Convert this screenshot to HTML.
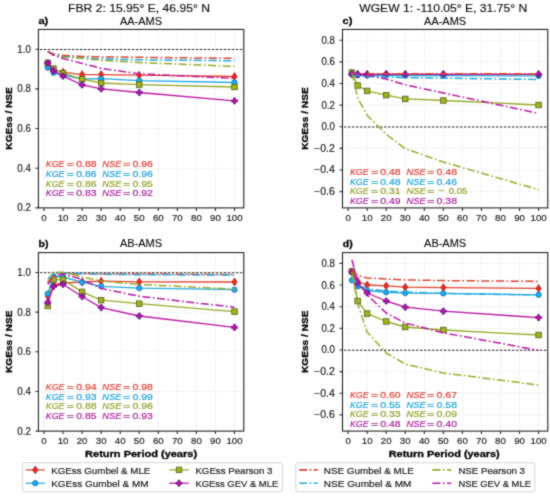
<!DOCTYPE html><html><head><meta charset="utf-8"><style>
html,body{margin:0;padding:0;background:#fff;}svg{display:block;}
text{font-family:"Liberation Sans", sans-serif;} .tk{font-size:9.6px;fill:#1a1a1a;stroke:#1a1a1a;stroke-width:0.16px;} .tky{font-size:10.1px;} .an{font-size:9.8px;stroke-width:0.15px;} .ti{font-size:11.2px;fill:#111;stroke:#111;stroke-width:0.15px;} .bl{font-size:9.6px;font-weight:bold;fill:#000;stroke:#000;stroke-width:0.3px;} .lg{font-size:9.6px;fill:#1e1e1e;stroke:#1e1e1e;stroke-width:0.2px;} .yl{font-size:9.6px;font-weight:bold;fill:#000;stroke:#000;stroke-width:0.3px;}
</style></head><body>
<svg width="550" height="497" viewBox="0 0 550 497">
<defs><filter id="soft" x="0" y="0" width="550" height="497" filterUnits="userSpaceOnUse" color-interpolation-filters="sRGB"><feConvolveMatrix order="3" kernelMatrix="1 2 1 2 14 2 1 2 1" divisor="26" edgeMode="duplicate"/></filter></defs>
<g filter="url(#soft)">
<rect width="550" height="497" fill="#fff"/>
<path d="M44.00,29.40V207.90 M63.05,29.40V207.90 M82.10,29.40V207.90 M101.15,29.40V207.90 M120.20,29.40V207.90 M139.25,29.40V207.90 M158.30,29.40V207.90 M177.35,29.40V207.90 M196.40,29.40V207.90 M215.45,29.40V207.90 M234.50,29.40V207.90 M38.40,49.23H243.80 M38.40,88.90H243.80 M38.40,128.57H243.80 M38.40,168.23H243.80 M38.40,207.90H243.80" stroke="#f3f3f3" stroke-width="0.9" fill="none"/>
<path d="M38.40,49.53H243.80" stroke="#2a2a2a" stroke-width="1.1" stroke-dasharray="2.5,1.5" stroke-dashoffset="-1.45" fill="none"/>
<polyline points="47.81,66.50 53.52,70.00 63.05,72.20 82.10,74.60 101.15,74.60 139.25,75.20 234.50,76.50" fill="none" stroke="#e2432f" stroke-width="1.35" stroke-linejoin="round"/>
<path d="M47.81,62.60 L50.41,66.50 L47.81,70.40 L45.21,66.50Z" fill="#f22a1a" stroke="#a01c28" stroke-width="0.75"/>
<path d="M53.52,66.10 L56.12,70.00 L53.52,73.90 L50.92,70.00Z" fill="#f22a1a" stroke="#a01c28" stroke-width="0.75"/>
<path d="M63.05,68.30 L65.65,72.20 L63.05,76.10 L60.45,72.20Z" fill="#f22a1a" stroke="#a01c28" stroke-width="0.75"/>
<path d="M82.10,70.70 L84.70,74.60 L82.10,78.50 L79.50,74.60Z" fill="#f22a1a" stroke="#a01c28" stroke-width="0.75"/>
<path d="M101.15,70.70 L103.75,74.60 L101.15,78.50 L98.55,74.60Z" fill="#f22a1a" stroke="#a01c28" stroke-width="0.75"/>
<path d="M139.25,71.30 L141.85,75.20 L139.25,79.10 L136.65,75.20Z" fill="#f22a1a" stroke="#a01c28" stroke-width="0.75"/>
<path d="M234.50,72.60 L237.10,76.50 L234.50,80.40 L231.90,76.50Z" fill="#f22a1a" stroke="#a01c28" stroke-width="0.75"/>
<polyline points="47.81,67.40 53.52,72.80 63.05,75.00 82.10,79.00 101.15,78.70 139.25,80.60 234.50,82.50" fill="none" stroke="#22aae2" stroke-width="1.35" stroke-linejoin="round"/>
<circle cx="47.81" cy="67.40" r="2.7" fill="#18acec" stroke="#1e6aa8" stroke-width="0.75"/>
<circle cx="53.52" cy="72.80" r="2.7" fill="#18acec" stroke="#1e6aa8" stroke-width="0.75"/>
<circle cx="63.05" cy="75.00" r="2.7" fill="#18acec" stroke="#1e6aa8" stroke-width="0.75"/>
<circle cx="82.10" cy="79.00" r="2.7" fill="#18acec" stroke="#1e6aa8" stroke-width="0.75"/>
<circle cx="101.15" cy="78.70" r="2.7" fill="#18acec" stroke="#1e6aa8" stroke-width="0.75"/>
<circle cx="139.25" cy="80.60" r="2.7" fill="#18acec" stroke="#1e6aa8" stroke-width="0.75"/>
<circle cx="234.50" cy="82.50" r="2.7" fill="#18acec" stroke="#1e6aa8" stroke-width="0.75"/>
<polyline points="47.81,62.90 53.52,68.60 63.05,73.10 82.10,79.10 101.15,83.00 139.25,84.60 234.50,87.00" fill="none" stroke="#98aa26" stroke-width="1.35" stroke-linejoin="round"/>
<rect x="45.06" y="60.15" width="5.5" height="5.5" fill="#a2b41a" stroke="#565c20" stroke-width="0.8"/>
<rect x="50.77" y="65.85" width="5.5" height="5.5" fill="#a2b41a" stroke="#565c20" stroke-width="0.8"/>
<rect x="60.30" y="70.35" width="5.5" height="5.5" fill="#a2b41a" stroke="#565c20" stroke-width="0.8"/>
<rect x="79.35" y="76.35" width="5.5" height="5.5" fill="#a2b41a" stroke="#565c20" stroke-width="0.8"/>
<rect x="98.40" y="80.25" width="5.5" height="5.5" fill="#a2b41a" stroke="#565c20" stroke-width="0.8"/>
<rect x="136.50" y="81.85" width="5.5" height="5.5" fill="#a2b41a" stroke="#565c20" stroke-width="0.8"/>
<rect x="231.75" y="84.25" width="5.5" height="5.5" fill="#a2b41a" stroke="#565c20" stroke-width="0.8"/>
<polyline points="47.81,62.90 53.52,70.70 63.05,76.10 82.10,84.90 101.15,88.90 139.25,92.50 234.50,100.90" fill="none" stroke="#bc18a4" stroke-width="1.35" stroke-linejoin="round"/>
<path d="M46.81,59.95 H48.81 V61.90 H50.76 V63.90 H48.81 V65.85 H46.81 V63.90 H44.86 V61.90 H46.81Z" fill="#d00ca8" stroke="#501088" stroke-width="0.75"/>
<path d="M52.52,67.75 H54.52 V69.70 H56.48 V71.70 H54.52 V73.65 H52.52 V71.70 H50.57 V69.70 H52.52Z" fill="#d00ca8" stroke="#501088" stroke-width="0.75"/>
<path d="M62.05,73.15 H64.05 V75.10 H66.00 V77.10 H64.05 V79.05 H62.05 V77.10 H60.10 V75.10 H62.05Z" fill="#d00ca8" stroke="#501088" stroke-width="0.75"/>
<path d="M81.10,81.95 H83.10 V83.90 H85.05 V85.90 H83.10 V87.85 H81.10 V85.90 H79.15 V83.90 H81.10Z" fill="#d00ca8" stroke="#501088" stroke-width="0.75"/>
<path d="M100.15,85.95 H102.15 V87.90 H104.10 V89.90 H102.15 V91.85 H100.15 V89.90 H98.20 V87.90 H100.15Z" fill="#d00ca8" stroke="#501088" stroke-width="0.75"/>
<path d="M138.25,89.55 H140.25 V91.50 H142.20 V93.50 H140.25 V95.45 H138.25 V93.50 H136.30 V91.50 H138.25Z" fill="#d00ca8" stroke="#501088" stroke-width="0.75"/>
<path d="M233.50,97.95 H235.50 V99.90 H237.45 V101.90 H235.50 V103.85 H233.50 V101.90 H231.55 V99.90 H233.50Z" fill="#d00ca8" stroke="#501088" stroke-width="0.75"/>
<polyline points="47.81,51.50 53.52,54.00 63.05,55.30 82.10,56.40 101.15,56.90 139.25,57.30 234.50,58.40" fill="none" stroke="#e2432f" stroke-width="1.5" stroke-dasharray="8.0,2.5,1.7,2.5" stroke-linejoin="round"/>
<polyline points="47.81,51.50 53.52,54.50 63.05,56.50 82.10,58.00 101.15,59.00 139.25,59.80 234.50,60.80" fill="none" stroke="#22aae2" stroke-width="1.5" stroke-dasharray="8.0,2.5,1.7,2.5" stroke-linejoin="round"/>
<polyline points="47.81,51.50 53.52,55.00 63.05,56.90 82.10,58.30 101.15,60.20 139.25,62.50 234.50,66.40" fill="none" stroke="#98aa26" stroke-width="1.5" stroke-dasharray="8.0,2.5,1.7,2.5" stroke-linejoin="round"/>
<polyline points="47.81,51.50 53.52,55.30 63.05,58.50 82.10,63.40 101.15,68.40 139.25,73.80 234.50,78.40" fill="none" stroke="#bc18a4" stroke-width="1.5" stroke-dasharray="8.0,2.5,1.7,2.5" stroke-linejoin="round"/>
<rect x="38.40" y="29.40" width="205.40" height="178.50" fill="none" stroke="#1a1a1a" stroke-width="1.05"/>
<path d="M44.00,207.90v3 M63.05,207.90v3 M82.10,207.90v3 M101.15,207.90v3 M120.20,207.90v3 M139.25,207.90v3 M158.30,207.90v3 M177.35,207.90v3 M196.40,207.90v3 M215.45,207.90v3 M234.50,207.90v3 M38.40,49.23h-3 M38.40,88.90h-3 M38.40,128.57h-3 M38.40,168.23h-3 M38.40,207.90h-3" stroke="#2e2e2e" stroke-width="1.1" fill="none"/>
<text x="44.00" y="220.90" text-anchor="middle" class="tk" textLength="5.39" lengthAdjust="spacingAndGlyphs">0</text>
<text x="63.05" y="220.90" text-anchor="middle" class="tk" textLength="10.79" lengthAdjust="spacingAndGlyphs">10</text>
<text x="82.10" y="220.90" text-anchor="middle" class="tk" textLength="10.79" lengthAdjust="spacingAndGlyphs">20</text>
<text x="101.15" y="220.90" text-anchor="middle" class="tk" textLength="10.79" lengthAdjust="spacingAndGlyphs">30</text>
<text x="120.20" y="220.90" text-anchor="middle" class="tk" textLength="10.79" lengthAdjust="spacingAndGlyphs">40</text>
<text x="139.25" y="220.90" text-anchor="middle" class="tk" textLength="10.79" lengthAdjust="spacingAndGlyphs">50</text>
<text x="158.30" y="220.90" text-anchor="middle" class="tk" textLength="10.79" lengthAdjust="spacingAndGlyphs">60</text>
<text x="177.35" y="220.90" text-anchor="middle" class="tk" textLength="10.79" lengthAdjust="spacingAndGlyphs">70</text>
<text x="196.40" y="220.90" text-anchor="middle" class="tk" textLength="10.79" lengthAdjust="spacingAndGlyphs">80</text>
<text x="215.45" y="220.90" text-anchor="middle" class="tk" textLength="10.79" lengthAdjust="spacingAndGlyphs">90</text>
<text x="234.50" y="220.90" text-anchor="middle" class="tk" textLength="16.18" lengthAdjust="spacingAndGlyphs">100</text>
<text x="30.80" y="52.68" text-anchor="end" class="tk tky" textLength="13.48" lengthAdjust="spacingAndGlyphs">1.0</text>
<text x="30.80" y="92.35" text-anchor="end" class="tk tky" textLength="13.48" lengthAdjust="spacingAndGlyphs">0.8</text>
<text x="30.80" y="132.02" text-anchor="end" class="tk tky" textLength="13.48" lengthAdjust="spacingAndGlyphs">0.6</text>
<text x="30.80" y="171.68" text-anchor="end" class="tk tky" textLength="13.48" lengthAdjust="spacingAndGlyphs">0.4</text>
<text x="30.80" y="211.35" text-anchor="end" class="tk tky" textLength="13.48" lengthAdjust="spacingAndGlyphs">0.2</text>
<text x="45.80" y="167.20" class="an" fill="#e63328" stroke="#e63328" font-style="italic" textLength="18.70" lengthAdjust="spacingAndGlyphs">KGE</text>
<text x="66.80" y="167.20" class="an" fill="#e63328" stroke="#e63328" textLength="7.30" lengthAdjust="spacingAndGlyphs">=</text>
<text x="76.20" y="167.20" class="an" fill="#e63328" stroke="#e63328" textLength="20.40" lengthAdjust="spacingAndGlyphs">0.88</text>
<text x="102.30" y="167.20" class="an" fill="#e63328" stroke="#e63328" font-style="italic" textLength="19.30" lengthAdjust="spacingAndGlyphs">NSE</text>
<text x="123.00" y="167.20" class="an" fill="#e63328" stroke="#e63328" textLength="7.30" lengthAdjust="spacingAndGlyphs">=</text>
<text x="132.40" y="167.20" class="an" fill="#e63328" stroke="#e63328" textLength="20.50" lengthAdjust="spacingAndGlyphs">0.96</text>
<text x="45.80" y="176.92" class="an" fill="#12a0dc" stroke="#12a0dc" font-style="italic" textLength="18.70" lengthAdjust="spacingAndGlyphs">KGE</text>
<text x="66.80" y="176.92" class="an" fill="#12a0dc" stroke="#12a0dc" textLength="7.30" lengthAdjust="spacingAndGlyphs">=</text>
<text x="76.20" y="176.92" class="an" fill="#12a0dc" stroke="#12a0dc" textLength="20.40" lengthAdjust="spacingAndGlyphs">0.86</text>
<text x="102.30" y="176.92" class="an" fill="#12a0dc" stroke="#12a0dc" font-style="italic" textLength="19.30" lengthAdjust="spacingAndGlyphs">NSE</text>
<text x="123.00" y="176.92" class="an" fill="#12a0dc" stroke="#12a0dc" textLength="7.30" lengthAdjust="spacingAndGlyphs">=</text>
<text x="132.40" y="176.92" class="an" fill="#12a0dc" stroke="#12a0dc" textLength="20.50" lengthAdjust="spacingAndGlyphs">0.96</text>
<text x="45.80" y="186.64" class="an" fill="#8e9c1c" stroke="#8e9c1c" font-style="italic" textLength="18.70" lengthAdjust="spacingAndGlyphs">KGE</text>
<text x="66.80" y="186.64" class="an" fill="#8e9c1c" stroke="#8e9c1c" textLength="7.30" lengthAdjust="spacingAndGlyphs">=</text>
<text x="76.20" y="186.64" class="an" fill="#8e9c1c" stroke="#8e9c1c" textLength="20.40" lengthAdjust="spacingAndGlyphs">0.86</text>
<text x="102.30" y="186.64" class="an" fill="#8e9c1c" stroke="#8e9c1c" font-style="italic" textLength="19.30" lengthAdjust="spacingAndGlyphs">NSE</text>
<text x="123.00" y="186.64" class="an" fill="#8e9c1c" stroke="#8e9c1c" textLength="7.30" lengthAdjust="spacingAndGlyphs">=</text>
<text x="132.40" y="186.64" class="an" fill="#8e9c1c" stroke="#8e9c1c" textLength="20.50" lengthAdjust="spacingAndGlyphs">0.95</text>
<text x="45.80" y="196.36" class="an" fill="#a81498" stroke="#a81498" font-style="italic" textLength="18.70" lengthAdjust="spacingAndGlyphs">KGE</text>
<text x="66.80" y="196.36" class="an" fill="#a81498" stroke="#a81498" textLength="7.30" lengthAdjust="spacingAndGlyphs">=</text>
<text x="76.20" y="196.36" class="an" fill="#a81498" stroke="#a81498" textLength="20.40" lengthAdjust="spacingAndGlyphs">0.83</text>
<text x="102.30" y="196.36" class="an" fill="#a81498" stroke="#a81498" font-style="italic" textLength="19.30" lengthAdjust="spacingAndGlyphs">NSE</text>
<text x="123.00" y="196.36" class="an" fill="#a81498" stroke="#a81498" textLength="7.30" lengthAdjust="spacingAndGlyphs">=</text>
<text x="132.40" y="196.36" class="an" fill="#a81498" stroke="#a81498" textLength="20.50" lengthAdjust="spacingAndGlyphs">0.92</text>
<path d="M44.00,252.60V431.10 M63.05,252.60V431.10 M82.10,252.60V431.10 M101.15,252.60V431.10 M120.20,252.60V431.10 M139.25,252.60V431.10 M158.30,252.60V431.10 M177.35,252.60V431.10 M196.40,252.60V431.10 M215.45,252.60V431.10 M234.50,252.60V431.10 M38.40,272.43H243.80 M38.40,312.10H243.80 M38.40,351.77H243.80 M38.40,391.43H243.80 M38.40,431.10H243.80" stroke="#f3f3f3" stroke-width="0.9" fill="none"/>
<path d="M38.40,272.73H243.80" stroke="#2a2a2a" stroke-width="1.1" stroke-dasharray="2.5,1.5" stroke-dashoffset="-1.45" fill="none"/>
<polyline points="47.81,296.00 53.52,285.00 63.05,283.00 82.10,282.00 101.15,281.20 139.25,281.80 234.50,282.00" fill="none" stroke="#e2432f" stroke-width="1.35" stroke-linejoin="round"/>
<path d="M47.81,292.10 L50.41,296.00 L47.81,299.90 L45.21,296.00Z" fill="#f22a1a" stroke="#a01c28" stroke-width="0.75"/>
<path d="M53.52,281.10 L56.12,285.00 L53.52,288.90 L50.92,285.00Z" fill="#f22a1a" stroke="#a01c28" stroke-width="0.75"/>
<path d="M63.05,279.10 L65.65,283.00 L63.05,286.90 L60.45,283.00Z" fill="#f22a1a" stroke="#a01c28" stroke-width="0.75"/>
<path d="M82.10,278.10 L84.70,282.00 L82.10,285.90 L79.50,282.00Z" fill="#f22a1a" stroke="#a01c28" stroke-width="0.75"/>
<path d="M101.15,277.30 L103.75,281.20 L101.15,285.10 L98.55,281.20Z" fill="#f22a1a" stroke="#a01c28" stroke-width="0.75"/>
<path d="M139.25,277.90 L141.85,281.80 L139.25,285.70 L136.65,281.80Z" fill="#f22a1a" stroke="#a01c28" stroke-width="0.75"/>
<path d="M234.50,278.10 L237.10,282.00 L234.50,285.90 L231.90,282.00Z" fill="#f22a1a" stroke="#a01c28" stroke-width="0.75"/>
<polyline points="47.81,293.70 53.52,276.50 63.05,277.00 82.10,282.20 101.15,286.30 139.25,288.10 234.50,289.70" fill="none" stroke="#22aae2" stroke-width="1.35" stroke-linejoin="round"/>
<circle cx="47.81" cy="293.70" r="2.7" fill="#18acec" stroke="#1e6aa8" stroke-width="0.75"/>
<circle cx="53.52" cy="276.50" r="2.7" fill="#18acec" stroke="#1e6aa8" stroke-width="0.75"/>
<circle cx="63.05" cy="277.00" r="2.7" fill="#18acec" stroke="#1e6aa8" stroke-width="0.75"/>
<circle cx="82.10" cy="282.20" r="2.7" fill="#18acec" stroke="#1e6aa8" stroke-width="0.75"/>
<circle cx="101.15" cy="286.30" r="2.7" fill="#18acec" stroke="#1e6aa8" stroke-width="0.75"/>
<circle cx="139.25" cy="288.10" r="2.7" fill="#18acec" stroke="#1e6aa8" stroke-width="0.75"/>
<circle cx="234.50" cy="289.70" r="2.7" fill="#18acec" stroke="#1e6aa8" stroke-width="0.75"/>
<polyline points="47.81,306.00 53.52,279.60 63.05,279.60 82.10,291.90 101.15,300.20 139.25,303.70 234.50,311.60" fill="none" stroke="#98aa26" stroke-width="1.35" stroke-linejoin="round"/>
<rect x="45.06" y="303.25" width="5.5" height="5.5" fill="#a2b41a" stroke="#565c20" stroke-width="0.8"/>
<rect x="50.77" y="276.85" width="5.5" height="5.5" fill="#a2b41a" stroke="#565c20" stroke-width="0.8"/>
<rect x="60.30" y="276.85" width="5.5" height="5.5" fill="#a2b41a" stroke="#565c20" stroke-width="0.8"/>
<rect x="79.35" y="289.15" width="5.5" height="5.5" fill="#a2b41a" stroke="#565c20" stroke-width="0.8"/>
<rect x="98.40" y="297.45" width="5.5" height="5.5" fill="#a2b41a" stroke="#565c20" stroke-width="0.8"/>
<rect x="136.50" y="300.95" width="5.5" height="5.5" fill="#a2b41a" stroke="#565c20" stroke-width="0.8"/>
<rect x="231.75" y="308.85" width="5.5" height="5.5" fill="#a2b41a" stroke="#565c20" stroke-width="0.8"/>
<polyline points="47.81,302.40 53.52,286.50 63.05,284.20 82.10,296.50 101.15,307.60 139.25,316.00 234.50,327.40" fill="none" stroke="#bc18a4" stroke-width="1.35" stroke-linejoin="round"/>
<path d="M46.81,299.45 H48.81 V301.40 H50.76 V303.40 H48.81 V305.35 H46.81 V303.40 H44.86 V301.40 H46.81Z" fill="#d00ca8" stroke="#501088" stroke-width="0.75"/>
<path d="M52.52,283.55 H54.52 V285.50 H56.48 V287.50 H54.52 V289.45 H52.52 V287.50 H50.57 V285.50 H52.52Z" fill="#d00ca8" stroke="#501088" stroke-width="0.75"/>
<path d="M62.05,281.25 H64.05 V283.20 H66.00 V285.20 H64.05 V287.15 H62.05 V285.20 H60.10 V283.20 H62.05Z" fill="#d00ca8" stroke="#501088" stroke-width="0.75"/>
<path d="M81.10,293.55 H83.10 V295.50 H85.05 V297.50 H83.10 V299.45 H81.10 V297.50 H79.15 V295.50 H81.10Z" fill="#d00ca8" stroke="#501088" stroke-width="0.75"/>
<path d="M100.15,304.65 H102.15 V306.60 H104.10 V308.60 H102.15 V310.55 H100.15 V308.60 H98.20 V306.60 H100.15Z" fill="#d00ca8" stroke="#501088" stroke-width="0.75"/>
<path d="M138.25,313.05 H140.25 V315.00 H142.20 V317.00 H140.25 V318.95 H138.25 V317.00 H136.30 V315.00 H138.25Z" fill="#d00ca8" stroke="#501088" stroke-width="0.75"/>
<path d="M233.50,324.45 H235.50 V326.40 H237.45 V328.40 H235.50 V330.35 H233.50 V328.40 H231.55 V326.40 H233.50Z" fill="#d00ca8" stroke="#501088" stroke-width="0.75"/>
<polyline points="47.81,283.00 53.52,275.00 63.05,273.80 82.10,273.80 101.15,273.90 139.25,274.00 234.50,274.50" fill="none" stroke="#e2432f" stroke-width="1.5" stroke-dasharray="8.0,2.5,1.7,2.5" stroke-linejoin="round"/>
<polyline points="47.81,279.00 53.52,273.50 63.05,273.20 82.10,273.50 101.15,274.20 139.25,274.80 234.50,275.00" fill="none" stroke="#22aae2" stroke-width="1.5" stroke-dasharray="8.0,2.5,1.7,2.5" stroke-linejoin="round"/>
<polyline points="47.81,282.00 53.52,272.30 63.05,272.20 82.10,277.00 101.15,281.00 139.25,284.40 234.50,289.20" fill="none" stroke="#98aa26" stroke-width="1.5" stroke-dasharray="8.0,2.5,1.7,2.5" stroke-linejoin="round"/>
<polyline points="47.81,284.50 53.52,276.00 63.05,274.00 82.10,279.50 101.15,288.40 139.25,296.30 234.50,307.30" fill="none" stroke="#bc18a4" stroke-width="1.5" stroke-dasharray="8.0,2.5,1.7,2.5" stroke-linejoin="round"/>
<rect x="38.40" y="252.60" width="205.40" height="178.50" fill="none" stroke="#1a1a1a" stroke-width="1.05"/>
<path d="M44.00,431.10v3 M63.05,431.10v3 M82.10,431.10v3 M101.15,431.10v3 M120.20,431.10v3 M139.25,431.10v3 M158.30,431.10v3 M177.35,431.10v3 M196.40,431.10v3 M215.45,431.10v3 M234.50,431.10v3 M38.40,272.43h-3 M38.40,312.10h-3 M38.40,351.77h-3 M38.40,391.43h-3 M38.40,431.10h-3" stroke="#2e2e2e" stroke-width="1.1" fill="none"/>
<text x="44.00" y="444.10" text-anchor="middle" class="tk" textLength="5.39" lengthAdjust="spacingAndGlyphs">0</text>
<text x="63.05" y="444.10" text-anchor="middle" class="tk" textLength="10.79" lengthAdjust="spacingAndGlyphs">10</text>
<text x="82.10" y="444.10" text-anchor="middle" class="tk" textLength="10.79" lengthAdjust="spacingAndGlyphs">20</text>
<text x="101.15" y="444.10" text-anchor="middle" class="tk" textLength="10.79" lengthAdjust="spacingAndGlyphs">30</text>
<text x="120.20" y="444.10" text-anchor="middle" class="tk" textLength="10.79" lengthAdjust="spacingAndGlyphs">40</text>
<text x="139.25" y="444.10" text-anchor="middle" class="tk" textLength="10.79" lengthAdjust="spacingAndGlyphs">50</text>
<text x="158.30" y="444.10" text-anchor="middle" class="tk" textLength="10.79" lengthAdjust="spacingAndGlyphs">60</text>
<text x="177.35" y="444.10" text-anchor="middle" class="tk" textLength="10.79" lengthAdjust="spacingAndGlyphs">70</text>
<text x="196.40" y="444.10" text-anchor="middle" class="tk" textLength="10.79" lengthAdjust="spacingAndGlyphs">80</text>
<text x="215.45" y="444.10" text-anchor="middle" class="tk" textLength="10.79" lengthAdjust="spacingAndGlyphs">90</text>
<text x="234.50" y="444.10" text-anchor="middle" class="tk" textLength="16.18" lengthAdjust="spacingAndGlyphs">100</text>
<text x="30.80" y="275.88" text-anchor="end" class="tk tky" textLength="13.48" lengthAdjust="spacingAndGlyphs">1.0</text>
<text x="30.80" y="315.55" text-anchor="end" class="tk tky" textLength="13.48" lengthAdjust="spacingAndGlyphs">0.8</text>
<text x="30.80" y="355.22" text-anchor="end" class="tk tky" textLength="13.48" lengthAdjust="spacingAndGlyphs">0.6</text>
<text x="30.80" y="394.88" text-anchor="end" class="tk tky" textLength="13.48" lengthAdjust="spacingAndGlyphs">0.4</text>
<text x="30.80" y="434.55" text-anchor="end" class="tk tky" textLength="13.48" lengthAdjust="spacingAndGlyphs">0.2</text>
<text x="45.80" y="390.00" class="an" fill="#e63328" stroke="#e63328" font-style="italic" textLength="18.70" lengthAdjust="spacingAndGlyphs">KGE</text>
<text x="66.80" y="390.00" class="an" fill="#e63328" stroke="#e63328" textLength="7.30" lengthAdjust="spacingAndGlyphs">=</text>
<text x="76.20" y="390.00" class="an" fill="#e63328" stroke="#e63328" textLength="20.40" lengthAdjust="spacingAndGlyphs">0.94</text>
<text x="102.30" y="390.00" class="an" fill="#e63328" stroke="#e63328" font-style="italic" textLength="19.30" lengthAdjust="spacingAndGlyphs">NSE</text>
<text x="123.00" y="390.00" class="an" fill="#e63328" stroke="#e63328" textLength="7.30" lengthAdjust="spacingAndGlyphs">=</text>
<text x="132.40" y="390.00" class="an" fill="#e63328" stroke="#e63328" textLength="20.50" lengthAdjust="spacingAndGlyphs">0.98</text>
<text x="45.80" y="399.72" class="an" fill="#12a0dc" stroke="#12a0dc" font-style="italic" textLength="18.70" lengthAdjust="spacingAndGlyphs">KGE</text>
<text x="66.80" y="399.72" class="an" fill="#12a0dc" stroke="#12a0dc" textLength="7.30" lengthAdjust="spacingAndGlyphs">=</text>
<text x="76.20" y="399.72" class="an" fill="#12a0dc" stroke="#12a0dc" textLength="20.40" lengthAdjust="spacingAndGlyphs">0.93</text>
<text x="102.30" y="399.72" class="an" fill="#12a0dc" stroke="#12a0dc" font-style="italic" textLength="19.30" lengthAdjust="spacingAndGlyphs">NSE</text>
<text x="123.00" y="399.72" class="an" fill="#12a0dc" stroke="#12a0dc" textLength="7.30" lengthAdjust="spacingAndGlyphs">=</text>
<text x="132.40" y="399.72" class="an" fill="#12a0dc" stroke="#12a0dc" textLength="20.50" lengthAdjust="spacingAndGlyphs">0.99</text>
<text x="45.80" y="409.44" class="an" fill="#8e9c1c" stroke="#8e9c1c" font-style="italic" textLength="18.70" lengthAdjust="spacingAndGlyphs">KGE</text>
<text x="66.80" y="409.44" class="an" fill="#8e9c1c" stroke="#8e9c1c" textLength="7.30" lengthAdjust="spacingAndGlyphs">=</text>
<text x="76.20" y="409.44" class="an" fill="#8e9c1c" stroke="#8e9c1c" textLength="20.40" lengthAdjust="spacingAndGlyphs">0.88</text>
<text x="102.30" y="409.44" class="an" fill="#8e9c1c" stroke="#8e9c1c" font-style="italic" textLength="19.30" lengthAdjust="spacingAndGlyphs">NSE</text>
<text x="123.00" y="409.44" class="an" fill="#8e9c1c" stroke="#8e9c1c" textLength="7.30" lengthAdjust="spacingAndGlyphs">=</text>
<text x="132.40" y="409.44" class="an" fill="#8e9c1c" stroke="#8e9c1c" textLength="20.50" lengthAdjust="spacingAndGlyphs">0.96</text>
<text x="45.80" y="419.16" class="an" fill="#a81498" stroke="#a81498" font-style="italic" textLength="18.70" lengthAdjust="spacingAndGlyphs">KGE</text>
<text x="66.80" y="419.16" class="an" fill="#a81498" stroke="#a81498" textLength="7.30" lengthAdjust="spacingAndGlyphs">=</text>
<text x="76.20" y="419.16" class="an" fill="#a81498" stroke="#a81498" textLength="20.40" lengthAdjust="spacingAndGlyphs">0.85</text>
<text x="102.30" y="419.16" class="an" fill="#a81498" stroke="#a81498" font-style="italic" textLength="19.30" lengthAdjust="spacingAndGlyphs">NSE</text>
<text x="123.00" y="419.16" class="an" fill="#a81498" stroke="#a81498" textLength="7.30" lengthAdjust="spacingAndGlyphs">=</text>
<text x="132.40" y="419.16" class="an" fill="#a81498" stroke="#a81498" textLength="20.50" lengthAdjust="spacingAndGlyphs">0.93</text>
<path d="M348.10,29.40V207.90 M367.15,29.40V207.90 M386.20,29.40V207.90 M405.25,29.40V207.90 M424.30,29.40V207.90 M443.35,29.40V207.90 M462.40,29.40V207.90 M481.45,29.40V207.90 M500.50,29.40V207.90 M519.55,29.40V207.90 M538.60,29.40V207.90 M342.50,40.22H547.80 M342.50,61.85H547.80 M342.50,83.49H547.80 M342.50,105.13H547.80 M342.50,126.76H547.80 M342.50,148.40H547.80 M342.50,170.04H547.80 M342.50,191.67H547.80" stroke="#f3f3f3" stroke-width="0.9" fill="none"/>
<path d="M342.50,127.06H547.80" stroke="#2a2a2a" stroke-width="1.1" stroke-dasharray="2.5,1.5" stroke-dashoffset="-1.45" fill="none"/>
<polyline points="351.91,73.30 357.62,74.00 367.15,74.30 386.20,74.30 405.25,74.30 443.35,74.30 538.60,74.30" fill="none" stroke="#e2432f" stroke-width="1.35" stroke-linejoin="round"/>
<path d="M351.91,69.40 L354.51,73.30 L351.91,77.20 L349.31,73.30Z" fill="#f22a1a" stroke="#a01c28" stroke-width="0.75"/>
<path d="M357.62,70.10 L360.23,74.00 L357.62,77.90 L355.02,74.00Z" fill="#f22a1a" stroke="#a01c28" stroke-width="0.75"/>
<path d="M367.15,70.40 L369.75,74.30 L367.15,78.20 L364.55,74.30Z" fill="#f22a1a" stroke="#a01c28" stroke-width="0.75"/>
<path d="M386.20,70.40 L388.80,74.30 L386.20,78.20 L383.60,74.30Z" fill="#f22a1a" stroke="#a01c28" stroke-width="0.75"/>
<path d="M405.25,70.40 L407.85,74.30 L405.25,78.20 L402.65,74.30Z" fill="#f22a1a" stroke="#a01c28" stroke-width="0.75"/>
<path d="M443.35,70.40 L445.95,74.30 L443.35,78.20 L440.75,74.30Z" fill="#f22a1a" stroke="#a01c28" stroke-width="0.75"/>
<path d="M538.60,70.40 L541.20,74.30 L538.60,78.20 L536.00,74.30Z" fill="#f22a1a" stroke="#a01c28" stroke-width="0.75"/>
<polyline points="351.91,74.50 357.62,75.30 367.15,75.50 386.20,75.50 405.25,75.50 443.35,75.70 538.60,75.90" fill="none" stroke="#22aae2" stroke-width="1.35" stroke-linejoin="round"/>
<circle cx="351.91" cy="74.50" r="2.7" fill="#18acec" stroke="#1e6aa8" stroke-width="0.75"/>
<circle cx="357.62" cy="75.30" r="2.7" fill="#18acec" stroke="#1e6aa8" stroke-width="0.75"/>
<circle cx="367.15" cy="75.50" r="2.7" fill="#18acec" stroke="#1e6aa8" stroke-width="0.75"/>
<circle cx="386.20" cy="75.50" r="2.7" fill="#18acec" stroke="#1e6aa8" stroke-width="0.75"/>
<circle cx="405.25" cy="75.50" r="2.7" fill="#18acec" stroke="#1e6aa8" stroke-width="0.75"/>
<circle cx="443.35" cy="75.70" r="2.7" fill="#18acec" stroke="#1e6aa8" stroke-width="0.75"/>
<circle cx="538.60" cy="75.90" r="2.7" fill="#18acec" stroke="#1e6aa8" stroke-width="0.75"/>
<polyline points="351.91,72.70 357.62,85.50 367.15,90.90 386.20,95.20 405.25,98.90 443.35,100.50 538.60,105.00" fill="none" stroke="#98aa26" stroke-width="1.35" stroke-linejoin="round"/>
<rect x="349.16" y="69.95" width="5.5" height="5.5" fill="#a2b41a" stroke="#565c20" stroke-width="0.8"/>
<rect x="354.88" y="82.75" width="5.5" height="5.5" fill="#a2b41a" stroke="#565c20" stroke-width="0.8"/>
<rect x="364.40" y="88.15" width="5.5" height="5.5" fill="#a2b41a" stroke="#565c20" stroke-width="0.8"/>
<rect x="383.45" y="92.45" width="5.5" height="5.5" fill="#a2b41a" stroke="#565c20" stroke-width="0.8"/>
<rect x="402.50" y="96.15" width="5.5" height="5.5" fill="#a2b41a" stroke="#565c20" stroke-width="0.8"/>
<rect x="440.60" y="97.75" width="5.5" height="5.5" fill="#a2b41a" stroke="#565c20" stroke-width="0.8"/>
<rect x="535.85" y="102.25" width="5.5" height="5.5" fill="#a2b41a" stroke="#565c20" stroke-width="0.8"/>
<polyline points="351.91,74.10 357.62,74.50 367.15,74.50 386.20,74.10 405.25,74.30 443.35,74.30 538.60,74.30" fill="none" stroke="#bc18a4" stroke-width="1.35" stroke-linejoin="round"/>
<path d="M350.91,71.15 H352.91 V73.10 H354.86 V75.10 H352.91 V77.05 H350.91 V75.10 H348.96 V73.10 H350.91Z" fill="#d00ca8" stroke="#501088" stroke-width="0.75"/>
<path d="M356.62,71.55 H358.62 V73.50 H360.57 V75.50 H358.62 V77.45 H356.62 V75.50 H354.68 V73.50 H356.62Z" fill="#d00ca8" stroke="#501088" stroke-width="0.75"/>
<path d="M366.15,71.55 H368.15 V73.50 H370.10 V75.50 H368.15 V77.45 H366.15 V75.50 H364.20 V73.50 H366.15Z" fill="#d00ca8" stroke="#501088" stroke-width="0.75"/>
<path d="M385.20,71.15 H387.20 V73.10 H389.15 V75.10 H387.20 V77.05 H385.20 V75.10 H383.25 V73.10 H385.20Z" fill="#d00ca8" stroke="#501088" stroke-width="0.75"/>
<path d="M404.25,71.35 H406.25 V73.30 H408.20 V75.30 H406.25 V77.25 H404.25 V75.30 H402.30 V73.30 H404.25Z" fill="#d00ca8" stroke="#501088" stroke-width="0.75"/>
<path d="M442.35,71.35 H444.35 V73.30 H446.30 V75.30 H444.35 V77.25 H442.35 V75.30 H440.40 V73.30 H442.35Z" fill="#d00ca8" stroke="#501088" stroke-width="0.75"/>
<path d="M537.60,71.35 H539.60 V73.30 H541.55 V75.30 H539.60 V77.25 H537.60 V75.30 H535.65 V73.30 H537.60Z" fill="#d00ca8" stroke="#501088" stroke-width="0.75"/>
<polyline points="351.91,73.70 357.62,73.70 367.15,73.70 386.20,73.70 405.25,73.80 443.35,73.80 538.60,73.90" fill="none" stroke="#e2432f" stroke-width="1.5" stroke-dasharray="8.0,2.5,1.7,2.5" stroke-linejoin="round"/>
<polyline points="351.91,74.50 357.62,75.50 367.15,76.40 386.20,77.00 405.25,77.70 443.35,78.20 538.60,79.50" fill="none" stroke="#22aae2" stroke-width="1.5" stroke-dasharray="8.0,2.5,1.7,2.5" stroke-linejoin="round"/>
<polyline points="351.91,72.50 357.62,98.00 367.15,115.30 386.20,134.30 405.25,148.70 443.35,162.00 538.60,189.70" fill="none" stroke="#98aa26" stroke-width="1.5" stroke-dasharray="8.0,2.5,1.7,2.5" stroke-linejoin="round"/>
<polyline points="351.91,73.50 357.62,74.00 367.15,75.00 386.20,79.10 405.25,84.80 443.35,93.00 538.60,113.40" fill="none" stroke="#bc18a4" stroke-width="1.5" stroke-dasharray="8.0,2.5,1.7,2.5" stroke-linejoin="round"/>
<rect x="342.50" y="29.40" width="205.30" height="178.50" fill="none" stroke="#1a1a1a" stroke-width="1.05"/>
<path d="M348.10,207.90v3 M367.15,207.90v3 M386.20,207.90v3 M405.25,207.90v3 M424.30,207.90v3 M443.35,207.90v3 M462.40,207.90v3 M481.45,207.90v3 M500.50,207.90v3 M519.55,207.90v3 M538.60,207.90v3 M342.50,40.22h-3 M342.50,61.85h-3 M342.50,83.49h-3 M342.50,105.13h-3 M342.50,126.76h-3 M342.50,148.40h-3 M342.50,170.04h-3 M342.50,191.67h-3" stroke="#2e2e2e" stroke-width="1.1" fill="none"/>
<text x="348.10" y="220.90" text-anchor="middle" class="tk" textLength="5.39" lengthAdjust="spacingAndGlyphs">0</text>
<text x="367.15" y="220.90" text-anchor="middle" class="tk" textLength="10.79" lengthAdjust="spacingAndGlyphs">10</text>
<text x="386.20" y="220.90" text-anchor="middle" class="tk" textLength="10.79" lengthAdjust="spacingAndGlyphs">20</text>
<text x="405.25" y="220.90" text-anchor="middle" class="tk" textLength="10.79" lengthAdjust="spacingAndGlyphs">30</text>
<text x="424.30" y="220.90" text-anchor="middle" class="tk" textLength="10.79" lengthAdjust="spacingAndGlyphs">40</text>
<text x="443.35" y="220.90" text-anchor="middle" class="tk" textLength="10.79" lengthAdjust="spacingAndGlyphs">50</text>
<text x="462.40" y="220.90" text-anchor="middle" class="tk" textLength="10.79" lengthAdjust="spacingAndGlyphs">60</text>
<text x="481.45" y="220.90" text-anchor="middle" class="tk" textLength="10.79" lengthAdjust="spacingAndGlyphs">70</text>
<text x="500.50" y="220.90" text-anchor="middle" class="tk" textLength="10.79" lengthAdjust="spacingAndGlyphs">80</text>
<text x="519.55" y="220.90" text-anchor="middle" class="tk" textLength="10.79" lengthAdjust="spacingAndGlyphs">90</text>
<text x="538.60" y="220.90" text-anchor="middle" class="tk" textLength="16.18" lengthAdjust="spacingAndGlyphs">100</text>
<text x="334.90" y="43.67" text-anchor="end" class="tk tky" textLength="13.48" lengthAdjust="spacingAndGlyphs">0.8</text>
<text x="334.90" y="65.30" text-anchor="end" class="tk tky" textLength="13.48" lengthAdjust="spacingAndGlyphs">0.6</text>
<text x="334.90" y="86.94" text-anchor="end" class="tk tky" textLength="13.48" lengthAdjust="spacingAndGlyphs">0.4</text>
<text x="334.90" y="108.58" text-anchor="end" class="tk tky" textLength="13.48" lengthAdjust="spacingAndGlyphs">0.2</text>
<text x="334.90" y="130.21" text-anchor="end" class="tk tky" textLength="13.48" lengthAdjust="spacingAndGlyphs">0.0</text>
<text x="334.90" y="151.85" text-anchor="end" class="tk tky" textLength="20.76" lengthAdjust="spacingAndGlyphs">−0.2</text>
<text x="334.90" y="173.49" text-anchor="end" class="tk tky" textLength="20.76" lengthAdjust="spacingAndGlyphs">−0.4</text>
<text x="334.90" y="195.12" text-anchor="end" class="tk tky" textLength="20.76" lengthAdjust="spacingAndGlyphs">−0.6</text>
<text x="349.90" y="175.00" class="an" fill="#e63328" stroke="#e63328" font-style="italic" textLength="18.70" lengthAdjust="spacingAndGlyphs">KGE</text>
<text x="370.90" y="175.00" class="an" fill="#e63328" stroke="#e63328" textLength="7.30" lengthAdjust="spacingAndGlyphs">=</text>
<text x="380.30" y="175.00" class="an" fill="#e63328" stroke="#e63328" textLength="20.40" lengthAdjust="spacingAndGlyphs">0.48</text>
<text x="406.40" y="175.00" class="an" fill="#e63328" stroke="#e63328" font-style="italic" textLength="19.30" lengthAdjust="spacingAndGlyphs">NSE</text>
<text x="427.10" y="175.00" class="an" fill="#e63328" stroke="#e63328" textLength="7.30" lengthAdjust="spacingAndGlyphs">=</text>
<text x="436.50" y="175.00" class="an" fill="#e63328" stroke="#e63328" textLength="20.50" lengthAdjust="spacingAndGlyphs">0.48</text>
<text x="349.90" y="184.72" class="an" fill="#12a0dc" stroke="#12a0dc" font-style="italic" textLength="18.70" lengthAdjust="spacingAndGlyphs">KGE</text>
<text x="370.90" y="184.72" class="an" fill="#12a0dc" stroke="#12a0dc" textLength="7.30" lengthAdjust="spacingAndGlyphs">=</text>
<text x="380.30" y="184.72" class="an" fill="#12a0dc" stroke="#12a0dc" textLength="20.40" lengthAdjust="spacingAndGlyphs">0.48</text>
<text x="406.40" y="184.72" class="an" fill="#12a0dc" stroke="#12a0dc" font-style="italic" textLength="19.30" lengthAdjust="spacingAndGlyphs">NSE</text>
<text x="427.10" y="184.72" class="an" fill="#12a0dc" stroke="#12a0dc" textLength="7.30" lengthAdjust="spacingAndGlyphs">=</text>
<text x="436.50" y="184.72" class="an" fill="#12a0dc" stroke="#12a0dc" textLength="20.50" lengthAdjust="spacingAndGlyphs">0.46</text>
<text x="349.90" y="194.44" class="an" fill="#8e9c1c" stroke="#8e9c1c" font-style="italic" textLength="18.70" lengthAdjust="spacingAndGlyphs">KGE</text>
<text x="370.90" y="194.44" class="an" fill="#8e9c1c" stroke="#8e9c1c" textLength="7.30" lengthAdjust="spacingAndGlyphs">=</text>
<text x="380.30" y="194.44" class="an" fill="#8e9c1c" stroke="#8e9c1c" textLength="20.40" lengthAdjust="spacingAndGlyphs">0.31</text>
<text x="406.40" y="194.44" class="an" fill="#8e9c1c" stroke="#8e9c1c" font-style="italic" textLength="19.30" lengthAdjust="spacingAndGlyphs">NSE</text>
<text x="427.10" y="194.44" class="an" fill="#8e9c1c" stroke="#8e9c1c" textLength="7.30" lengthAdjust="spacingAndGlyphs">=</text>
<text x="438.50" y="194.44" class="an" fill="#8e9c1c" stroke="#8e9c1c" textLength="6.10" lengthAdjust="spacingAndGlyphs">−</text>
<text x="448.70" y="194.44" class="an" fill="#8e9c1c" stroke="#8e9c1c" textLength="18.80" lengthAdjust="spacingAndGlyphs">0.05</text>
<text x="349.90" y="204.16" class="an" fill="#a81498" stroke="#a81498" font-style="italic" textLength="18.70" lengthAdjust="spacingAndGlyphs">KGE</text>
<text x="370.90" y="204.16" class="an" fill="#a81498" stroke="#a81498" textLength="7.30" lengthAdjust="spacingAndGlyphs">=</text>
<text x="380.30" y="204.16" class="an" fill="#a81498" stroke="#a81498" textLength="20.40" lengthAdjust="spacingAndGlyphs">0.49</text>
<text x="406.40" y="204.16" class="an" fill="#a81498" stroke="#a81498" font-style="italic" textLength="19.30" lengthAdjust="spacingAndGlyphs">NSE</text>
<text x="427.10" y="204.16" class="an" fill="#a81498" stroke="#a81498" textLength="7.30" lengthAdjust="spacingAndGlyphs">=</text>
<text x="436.50" y="204.16" class="an" fill="#a81498" stroke="#a81498" textLength="20.50" lengthAdjust="spacingAndGlyphs">0.38</text>
<path d="M348.10,252.60V431.10 M367.15,252.60V431.10 M386.20,252.60V431.10 M405.25,252.60V431.10 M424.30,252.60V431.10 M443.35,252.60V431.10 M462.40,252.60V431.10 M481.45,252.60V431.10 M500.50,252.60V431.10 M519.55,252.60V431.10 M538.60,252.60V431.10 M342.50,263.42H547.80 M342.50,285.05H547.80 M342.50,306.69H547.80 M342.50,328.33H547.80 M342.50,349.96H547.80 M342.50,371.60H547.80 M342.50,393.24H547.80 M342.50,414.87H547.80" stroke="#f3f3f3" stroke-width="0.9" fill="none"/>
<path d="M342.50,350.26H547.80" stroke="#2a2a2a" stroke-width="1.1" stroke-dasharray="2.5,1.5" stroke-dashoffset="-1.45" fill="none"/>
<polyline points="351.91,272.00 357.62,281.00 367.15,285.00 386.20,285.90 405.25,287.20 443.35,287.60 538.60,288.40" fill="none" stroke="#e2432f" stroke-width="1.35" stroke-linejoin="round"/>
<path d="M351.91,268.10 L354.51,272.00 L351.91,275.90 L349.31,272.00Z" fill="#f22a1a" stroke="#a01c28" stroke-width="0.75"/>
<path d="M357.62,277.10 L360.23,281.00 L357.62,284.90 L355.02,281.00Z" fill="#f22a1a" stroke="#a01c28" stroke-width="0.75"/>
<path d="M367.15,281.10 L369.75,285.00 L367.15,288.90 L364.55,285.00Z" fill="#f22a1a" stroke="#a01c28" stroke-width="0.75"/>
<path d="M386.20,282.00 L388.80,285.90 L386.20,289.80 L383.60,285.90Z" fill="#f22a1a" stroke="#a01c28" stroke-width="0.75"/>
<path d="M405.25,283.30 L407.85,287.20 L405.25,291.10 L402.65,287.20Z" fill="#f22a1a" stroke="#a01c28" stroke-width="0.75"/>
<path d="M443.35,283.70 L445.95,287.60 L443.35,291.50 L440.75,287.60Z" fill="#f22a1a" stroke="#a01c28" stroke-width="0.75"/>
<path d="M538.60,284.50 L541.20,288.40 L538.60,292.30 L536.00,288.40Z" fill="#f22a1a" stroke="#a01c28" stroke-width="0.75"/>
<polyline points="351.91,280.30 357.62,286.40 367.15,290.50 386.20,292.30 405.25,293.10 443.35,293.40 538.60,294.80" fill="none" stroke="#22aae2" stroke-width="1.35" stroke-linejoin="round"/>
<circle cx="351.91" cy="280.30" r="2.7" fill="#18acec" stroke="#1e6aa8" stroke-width="0.75"/>
<circle cx="357.62" cy="286.40" r="2.7" fill="#18acec" stroke="#1e6aa8" stroke-width="0.75"/>
<circle cx="367.15" cy="290.50" r="2.7" fill="#18acec" stroke="#1e6aa8" stroke-width="0.75"/>
<circle cx="386.20" cy="292.30" r="2.7" fill="#18acec" stroke="#1e6aa8" stroke-width="0.75"/>
<circle cx="405.25" cy="293.10" r="2.7" fill="#18acec" stroke="#1e6aa8" stroke-width="0.75"/>
<circle cx="443.35" cy="293.40" r="2.7" fill="#18acec" stroke="#1e6aa8" stroke-width="0.75"/>
<circle cx="538.60" cy="294.80" r="2.7" fill="#18acec" stroke="#1e6aa8" stroke-width="0.75"/>
<polyline points="351.91,271.50 357.62,301.00 367.15,313.60 386.20,321.50 405.25,327.00 443.35,330.00 538.60,335.00" fill="none" stroke="#98aa26" stroke-width="1.35" stroke-linejoin="round"/>
<rect x="349.16" y="268.75" width="5.5" height="5.5" fill="#a2b41a" stroke="#565c20" stroke-width="0.8"/>
<rect x="354.88" y="298.25" width="5.5" height="5.5" fill="#a2b41a" stroke="#565c20" stroke-width="0.8"/>
<rect x="364.40" y="310.85" width="5.5" height="5.5" fill="#a2b41a" stroke="#565c20" stroke-width="0.8"/>
<rect x="383.45" y="318.75" width="5.5" height="5.5" fill="#a2b41a" stroke="#565c20" stroke-width="0.8"/>
<rect x="402.50" y="324.25" width="5.5" height="5.5" fill="#a2b41a" stroke="#565c20" stroke-width="0.8"/>
<rect x="440.60" y="327.25" width="5.5" height="5.5" fill="#a2b41a" stroke="#565c20" stroke-width="0.8"/>
<rect x="535.85" y="332.25" width="5.5" height="5.5" fill="#a2b41a" stroke="#565c20" stroke-width="0.8"/>
<polyline points="351.91,271.80 357.62,283.50 367.15,293.00 386.20,301.00 405.25,307.20 443.35,311.20 538.60,317.60" fill="none" stroke="#bc18a4" stroke-width="1.35" stroke-linejoin="round"/>
<path d="M350.91,268.85 H352.91 V270.80 H354.86 V272.80 H352.91 V274.75 H350.91 V272.80 H348.96 V270.80 H350.91Z" fill="#d00ca8" stroke="#501088" stroke-width="0.75"/>
<path d="M356.62,280.55 H358.62 V282.50 H360.57 V284.50 H358.62 V286.45 H356.62 V284.50 H354.68 V282.50 H356.62Z" fill="#d00ca8" stroke="#501088" stroke-width="0.75"/>
<path d="M366.15,290.05 H368.15 V292.00 H370.10 V294.00 H368.15 V295.95 H366.15 V294.00 H364.20 V292.00 H366.15Z" fill="#d00ca8" stroke="#501088" stroke-width="0.75"/>
<path d="M385.20,298.05 H387.20 V300.00 H389.15 V302.00 H387.20 V303.95 H385.20 V302.00 H383.25 V300.00 H385.20Z" fill="#d00ca8" stroke="#501088" stroke-width="0.75"/>
<path d="M404.25,304.25 H406.25 V306.20 H408.20 V308.20 H406.25 V310.15 H404.25 V308.20 H402.30 V306.20 H404.25Z" fill="#d00ca8" stroke="#501088" stroke-width="0.75"/>
<path d="M442.35,308.25 H444.35 V310.20 H446.30 V312.20 H444.35 V314.15 H442.35 V312.20 H440.40 V310.20 H442.35Z" fill="#d00ca8" stroke="#501088" stroke-width="0.75"/>
<path d="M537.60,314.65 H539.60 V316.60 H541.55 V318.60 H539.60 V320.55 H537.60 V318.60 H535.65 V316.60 H537.60Z" fill="#d00ca8" stroke="#501088" stroke-width="0.75"/>
<polyline points="351.91,269.50 357.62,275.50 367.15,278.00 386.20,279.00 405.25,279.90 443.35,280.60 538.60,281.40" fill="none" stroke="#e2432f" stroke-width="1.5" stroke-dasharray="8.0,2.5,1.7,2.5" stroke-linejoin="round"/>
<polyline points="351.91,276.00 357.62,285.20 367.15,288.80 386.20,291.20 405.25,291.90 443.35,293.50 538.60,295.00" fill="none" stroke="#22aae2" stroke-width="1.5" stroke-dasharray="8.0,2.5,1.7,2.5" stroke-linejoin="round"/>
<polyline points="351.91,271.90 357.62,303.50 367.15,332.00 386.20,353.00 405.25,364.00 443.35,373.00 538.60,385.00" fill="none" stroke="#98aa26" stroke-width="1.5" stroke-dasharray="8.0,2.5,1.7,2.5" stroke-linejoin="round"/>
<polyline points="351.91,259.80 357.62,281.50 367.15,294.80 386.20,313.00 405.25,323.00 443.35,332.80 538.60,350.30" fill="none" stroke="#bc18a4" stroke-width="1.5" stroke-dasharray="8.0,2.5,1.7,2.5" stroke-linejoin="round"/>
<rect x="342.50" y="252.60" width="205.30" height="178.50" fill="none" stroke="#1a1a1a" stroke-width="1.05"/>
<path d="M348.10,431.10v3 M367.15,431.10v3 M386.20,431.10v3 M405.25,431.10v3 M424.30,431.10v3 M443.35,431.10v3 M462.40,431.10v3 M481.45,431.10v3 M500.50,431.10v3 M519.55,431.10v3 M538.60,431.10v3 M342.50,263.42h-3 M342.50,285.05h-3 M342.50,306.69h-3 M342.50,328.33h-3 M342.50,349.96h-3 M342.50,371.60h-3 M342.50,393.24h-3 M342.50,414.87h-3" stroke="#2e2e2e" stroke-width="1.1" fill="none"/>
<text x="348.10" y="444.10" text-anchor="middle" class="tk" textLength="5.39" lengthAdjust="spacingAndGlyphs">0</text>
<text x="367.15" y="444.10" text-anchor="middle" class="tk" textLength="10.79" lengthAdjust="spacingAndGlyphs">10</text>
<text x="386.20" y="444.10" text-anchor="middle" class="tk" textLength="10.79" lengthAdjust="spacingAndGlyphs">20</text>
<text x="405.25" y="444.10" text-anchor="middle" class="tk" textLength="10.79" lengthAdjust="spacingAndGlyphs">30</text>
<text x="424.30" y="444.10" text-anchor="middle" class="tk" textLength="10.79" lengthAdjust="spacingAndGlyphs">40</text>
<text x="443.35" y="444.10" text-anchor="middle" class="tk" textLength="10.79" lengthAdjust="spacingAndGlyphs">50</text>
<text x="462.40" y="444.10" text-anchor="middle" class="tk" textLength="10.79" lengthAdjust="spacingAndGlyphs">60</text>
<text x="481.45" y="444.10" text-anchor="middle" class="tk" textLength="10.79" lengthAdjust="spacingAndGlyphs">70</text>
<text x="500.50" y="444.10" text-anchor="middle" class="tk" textLength="10.79" lengthAdjust="spacingAndGlyphs">80</text>
<text x="519.55" y="444.10" text-anchor="middle" class="tk" textLength="10.79" lengthAdjust="spacingAndGlyphs">90</text>
<text x="538.60" y="444.10" text-anchor="middle" class="tk" textLength="16.18" lengthAdjust="spacingAndGlyphs">100</text>
<text x="334.90" y="266.87" text-anchor="end" class="tk tky" textLength="13.48" lengthAdjust="spacingAndGlyphs">0.8</text>
<text x="334.90" y="288.50" text-anchor="end" class="tk tky" textLength="13.48" lengthAdjust="spacingAndGlyphs">0.6</text>
<text x="334.90" y="310.14" text-anchor="end" class="tk tky" textLength="13.48" lengthAdjust="spacingAndGlyphs">0.4</text>
<text x="334.90" y="331.78" text-anchor="end" class="tk tky" textLength="13.48" lengthAdjust="spacingAndGlyphs">0.2</text>
<text x="334.90" y="353.41" text-anchor="end" class="tk tky" textLength="13.48" lengthAdjust="spacingAndGlyphs">0.0</text>
<text x="334.90" y="375.05" text-anchor="end" class="tk tky" textLength="20.76" lengthAdjust="spacingAndGlyphs">−0.2</text>
<text x="334.90" y="396.69" text-anchor="end" class="tk tky" textLength="20.76" lengthAdjust="spacingAndGlyphs">−0.4</text>
<text x="334.90" y="418.32" text-anchor="end" class="tk tky" textLength="20.76" lengthAdjust="spacingAndGlyphs">−0.6</text>
<text x="349.90" y="398.00" class="an" fill="#e63328" stroke="#e63328" font-style="italic" textLength="18.70" lengthAdjust="spacingAndGlyphs">KGE</text>
<text x="370.90" y="398.00" class="an" fill="#e63328" stroke="#e63328" textLength="7.30" lengthAdjust="spacingAndGlyphs">=</text>
<text x="380.30" y="398.00" class="an" fill="#e63328" stroke="#e63328" textLength="20.40" lengthAdjust="spacingAndGlyphs">0.60</text>
<text x="406.40" y="398.00" class="an" fill="#e63328" stroke="#e63328" font-style="italic" textLength="19.30" lengthAdjust="spacingAndGlyphs">NSE</text>
<text x="427.10" y="398.00" class="an" fill="#e63328" stroke="#e63328" textLength="7.30" lengthAdjust="spacingAndGlyphs">=</text>
<text x="436.50" y="398.00" class="an" fill="#e63328" stroke="#e63328" textLength="20.50" lengthAdjust="spacingAndGlyphs">0.67</text>
<text x="349.90" y="407.72" class="an" fill="#12a0dc" stroke="#12a0dc" font-style="italic" textLength="18.70" lengthAdjust="spacingAndGlyphs">KGE</text>
<text x="370.90" y="407.72" class="an" fill="#12a0dc" stroke="#12a0dc" textLength="7.30" lengthAdjust="spacingAndGlyphs">=</text>
<text x="380.30" y="407.72" class="an" fill="#12a0dc" stroke="#12a0dc" textLength="20.40" lengthAdjust="spacingAndGlyphs">0.55</text>
<text x="406.40" y="407.72" class="an" fill="#12a0dc" stroke="#12a0dc" font-style="italic" textLength="19.30" lengthAdjust="spacingAndGlyphs">NSE</text>
<text x="427.10" y="407.72" class="an" fill="#12a0dc" stroke="#12a0dc" textLength="7.30" lengthAdjust="spacingAndGlyphs">=</text>
<text x="436.50" y="407.72" class="an" fill="#12a0dc" stroke="#12a0dc" textLength="20.50" lengthAdjust="spacingAndGlyphs">0.58</text>
<text x="349.90" y="417.44" class="an" fill="#8e9c1c" stroke="#8e9c1c" font-style="italic" textLength="18.70" lengthAdjust="spacingAndGlyphs">KGE</text>
<text x="370.90" y="417.44" class="an" fill="#8e9c1c" stroke="#8e9c1c" textLength="7.30" lengthAdjust="spacingAndGlyphs">=</text>
<text x="380.30" y="417.44" class="an" fill="#8e9c1c" stroke="#8e9c1c" textLength="20.40" lengthAdjust="spacingAndGlyphs">0.33</text>
<text x="406.40" y="417.44" class="an" fill="#8e9c1c" stroke="#8e9c1c" font-style="italic" textLength="19.30" lengthAdjust="spacingAndGlyphs">NSE</text>
<text x="427.10" y="417.44" class="an" fill="#8e9c1c" stroke="#8e9c1c" textLength="7.30" lengthAdjust="spacingAndGlyphs">=</text>
<text x="436.50" y="417.44" class="an" fill="#8e9c1c" stroke="#8e9c1c" textLength="20.50" lengthAdjust="spacingAndGlyphs">0.09</text>
<text x="349.90" y="427.16" class="an" fill="#a81498" stroke="#a81498" font-style="italic" textLength="18.70" lengthAdjust="spacingAndGlyphs">KGE</text>
<text x="370.90" y="427.16" class="an" fill="#a81498" stroke="#a81498" textLength="7.30" lengthAdjust="spacingAndGlyphs">=</text>
<text x="380.30" y="427.16" class="an" fill="#a81498" stroke="#a81498" textLength="20.40" lengthAdjust="spacingAndGlyphs">0.48</text>
<text x="406.40" y="427.16" class="an" fill="#a81498" stroke="#a81498" font-style="italic" textLength="19.30" lengthAdjust="spacingAndGlyphs">NSE</text>
<text x="427.10" y="427.16" class="an" fill="#a81498" stroke="#a81498" textLength="7.30" lengthAdjust="spacingAndGlyphs">=</text>
<text x="436.50" y="427.16" class="an" fill="#a81498" stroke="#a81498" textLength="20.50" lengthAdjust="spacingAndGlyphs">0.40</text>
<text x="139" y="12" text-anchor="middle" class="ti" textLength="142" lengthAdjust="spacingAndGlyphs">FBR 2: 15.95° E, 46.95° N</text>
<text x="141" y="24.6" text-anchor="middle" class="ti" textLength="42" lengthAdjust="spacingAndGlyphs">AA-AMS</text>
<text x="443.2" y="11.6" text-anchor="middle" class="ti" textLength="168" lengthAdjust="spacingAndGlyphs">WGEW 1: -110.05° E, 31.75° N</text>
<text x="445.1" y="24.6" text-anchor="middle" class="ti" textLength="42" lengthAdjust="spacingAndGlyphs">AA-AMS</text>
<text x="141" y="247.0" text-anchor="middle" class="ti" textLength="42" lengthAdjust="spacingAndGlyphs">AB-AMS</text>
<text x="445.1" y="247.0" text-anchor="middle" class="ti" textLength="42" lengthAdjust="spacingAndGlyphs">AB-AMS</text>
<text x="38.4" y="24.4" class="bl" textLength="9.9" lengthAdjust="spacingAndGlyphs">a)</text>
<text x="342.6" y="24.2" class="bl" textLength="9.9" lengthAdjust="spacingAndGlyphs">c)</text>
<text x="38.6" y="247.4" class="bl" textLength="9.9" lengthAdjust="spacingAndGlyphs">b)</text>
<text x="342.8" y="247.4" class="bl" textLength="9.9" lengthAdjust="spacingAndGlyphs">d)</text>
<text transform="translate(11.5,118.4) rotate(-90)" text-anchor="middle" class="yl" textLength="62.5" lengthAdjust="spacingAndGlyphs">KGEss / NSE</text>
<text transform="translate(308.2,118.6) rotate(-90)" text-anchor="middle" class="yl" textLength="62.5" lengthAdjust="spacingAndGlyphs">KGEss / NSE</text>
<text transform="translate(11.5,341.8) rotate(-90)" text-anchor="middle" class="yl" textLength="62.5" lengthAdjust="spacingAndGlyphs">KGEss / NSE</text>
<text transform="translate(308.2,341.8) rotate(-90)" text-anchor="middle" class="yl" textLength="62.5" lengthAdjust="spacingAndGlyphs">KGEss / NSE</text>
<text x="141.1" y="457" text-anchor="middle" class="yl" textLength="112" lengthAdjust="spacingAndGlyphs">Return Period (years)</text>
<text x="444.2" y="457" text-anchor="middle" class="yl" textLength="111" lengthAdjust="spacingAndGlyphs">Return Period (years)</text>
<rect x="22.4" y="462.6" width="259.9" height="29.2" rx="2" ry="2" fill="#fff" stroke="#d4d4d4" stroke-width="1"/>
<rect x="295.8" y="462.8" width="238.9" height="29" rx="2" ry="2" fill="#fff" stroke="#d4d4d4" stroke-width="1"/>
<path d="M25.7,469.9H44.8" stroke="#e2432f" stroke-width="1.25"/>
<path d="M35.25,466.00 L37.85,469.90 L35.25,473.80 L32.65,469.90Z" fill="#f22a1a" stroke="#a01c28" stroke-width="0.75"/>
<text x="51.20" y="473.50" class="lg" textLength="99.20" lengthAdjust="spacingAndGlyphs">KGEss Gumbel &amp; MLE</text>
<path d="M25.7,483.2H44.8" stroke="#22aae2" stroke-width="1.25"/>
<circle cx="35.25" cy="483.20" r="2.7" fill="#18acec" stroke="#1e6aa8" stroke-width="0.75"/>
<text x="51.20" y="486.80" class="lg" textLength="97.40" lengthAdjust="spacingAndGlyphs">KGEss Gumbel &amp; MM</text>
<path d="M169.3,469.9H188.7" stroke="#98aa26" stroke-width="1.25"/>
<rect x="176.25" y="467.15" width="5.5" height="5.5" fill="#a2b41a" stroke="#565c20" stroke-width="0.8"/>
<text x="195.40" y="473.50" class="lg" textLength="77.00" lengthAdjust="spacingAndGlyphs">KGEss Pearson 3</text>
<path d="M169.3,483.2H188.7" stroke="#bc18a4" stroke-width="1.25"/>
<path d="M178.00,480.25 H180.00 V482.20 H181.95 V484.20 H180.00 V486.15 H178.00 V484.20 H176.05 V482.20 H178.00Z" fill="#d00ca8" stroke="#501088" stroke-width="0.75"/>
<text x="195.40" y="486.80" class="lg" textLength="82.80" lengthAdjust="spacingAndGlyphs">KGEss GEV &amp; MLE</text>
<path d="M299.2,469.9H317.6" stroke="#e2432f" stroke-width="1.6" stroke-dasharray="8.0,2.5,1.7,2.5"/>
<text x="323.80" y="473.50" class="lg" textLength="90.10" lengthAdjust="spacingAndGlyphs">NSE Gumbel &amp; MLE</text>
<path d="M299.2,483.2H317.6" stroke="#22aae2" stroke-width="1.6" stroke-dasharray="8.0,2.5,1.7,2.5"/>
<text x="323.80" y="486.80" class="lg" textLength="87.70" lengthAdjust="spacingAndGlyphs">NSE Gumbel &amp; MM</text>
<path d="M432.4,469.9H451.2" stroke="#98aa26" stroke-width="1.6" stroke-dasharray="8.0,2.5,1.7,2.5"/>
<text x="458.40" y="473.50" class="lg" textLength="66.60" lengthAdjust="spacingAndGlyphs">NSE Pearson 3</text>
<path d="M432.4,483.2H451.2" stroke="#bc18a4" stroke-width="1.6" stroke-dasharray="8.0,2.5,1.7,2.5"/>
<text x="458.40" y="486.80" class="lg" textLength="72.50" lengthAdjust="spacingAndGlyphs">NSE GEV &amp; MLE</text>
</g></svg></body></html>
